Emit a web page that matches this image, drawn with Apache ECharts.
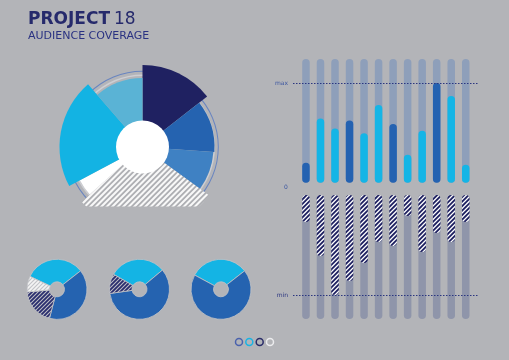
<!DOCTYPE html>
<html><head><meta charset="utf-8">
<script src="https://cdn.jsdelivr.net/npm/echarts@6/dist/echarts.min.js"></script>
<style>html,body{margin:0;padding:0;background:#b3b4b8}#c{width:509px;height:360px}</style>
</head><body><div id="c"></div>
<script>
// ---- data ----
const titleMain = 'PROJECT';
const titleNum = '18';
const subtitle = 'AUDIENCE COVERAGE';

const pieNames = ['Navy', 'Blue', 'Light blue', 'Hatched', 'White', 'Cyan', 'Teal'];
const pieSpans = [52, 42, 32, 102, 14, 77, 41];      // degrees, clockwise from 12 o'clock
const pieReach = [82, 72, 71, 82, 71, 83, 69];        // relative reach of each sector

const barCats = ['1','2','3','4','5','6','7','8','9','10','11','12'];
const topValues = [0.20, 0.645, 0.545, 0.625, 0.495, 0.78, 0.59, 0.28, 0.52, 1.0, 0.87, 0.18];
const topTone = [1,0,0,1,0,0,1,0,0,1,0,0];
const bottomValues = [-0.27, -0.61, -1.0, -0.86, -0.68, -0.47, -0.51, -0.21, -0.57, -0.38, -0.47, -0.27];
const trackTop = 1.24;
const trackBottom = -1.24;
const maxValue = 1, minValue = -1;
const maxLabel = 'max', minLabel = 'min', zeroLabel = '0';

const donutStarts = [154.5, 150, 151.7];
const donutSpans = [[116.5, 142.6, 70.4, 30.5], [110, 212, 38], [113.7, 246.3]];
const donutKinds = [['cyan','blue','hatchNavy','hatchWhite'], ['cyan','blue','hatchNavy'], ['cyan','blue']];

// ---- styles ----
const BG = '#b3b4b8';
const NAVY = '#1f2161';
function stripes(bg, fg, spacing, tile, lineW, back) {
  const c = document.createElement('canvas');
  c.width = tile; c.height = tile;
  const ctx = c.getContext('2d');
  ctx.fillStyle = bg; ctx.fillRect(0, 0, tile, tile);
  ctx.strokeStyle = fg; ctx.lineWidth = lineW;
  ctx.beginPath();
  for (let cc = -2 * tile; cc <= 3 * tile; cc += spacing) {
    if (!back) { ctx.moveTo(cc - 2 * tile, 2 * tile); ctx.lineTo(cc + 2 * tile, -2 * tile); }
    else { ctx.moveTo(cc - 2 * tile, -2 * tile); ctx.lineTo(cc + 2 * tile, 2 * tile); }
  }
  ctx.stroke();
  return { image: c, repeat: 'repeat' };
}
const pieColors = [NAVY, '#2563b0', '#3f81c3', stripes('#adaeb2', '#f8f8f8', 5.5, 11, 2.1, false), '#ffffff', '#13b3e3', '#5ab3d5'];
const barHatch = stripes(NAVY, '#ffffff', 4.5, 9, 1.3, false);
const donutColor = {
  cyan: '#14b4e4', blue: '#2563b0',
  hatchNavy: stripes('#bfc0c6', '#2a2d6e', 4, 8, 1.8, false),
  hatchWhite: stripes('#c3c4c8', '#f4f4f4', 4, 8, 1.6, false)
};

const chart = echarts.init(document.getElementById('c'), null, { renderer: 'canvas' });

const series = [];
const PIE_C = [142.5, 147];
// outer decorative rings
series.push({ type: 'pie', silent: true, center: PIE_C, radius: [71, 72.5], startAngle: 90, label: { show: false },
  data: [{ value: 1, itemStyle: { color: '#cdced3' } }], z: 1 });
series.push({ type: 'pie', silent: true, center: PIE_C, radius: [75.3, 76.3], startAngle: 90, label: { show: false },
  data: [{ value: 1, itemStyle: { color: '#6985c0' } }], z: 1 });
let acc = 0;
pieSpans.forEach((s, i) => {
  series.push({
    type: 'pie', name: pieNames[i], silent: true, center: PIE_C, radius: [0, pieReach[i]],
    startAngle: 90 - acc, label: { show: false }, labelLine: { show: false }, z: 2,
    data: [{ value: s, name: pieNames[i], itemStyle: { color: pieColors[i] } },
           { value: 360 - s, itemStyle: { color: 'rgba(0,0,0,0)' } }]
  });
  acc += s;
});
series.push({ type: 'pie', silent: true, center: PIE_C, radius: [0, 26.5], label: { show: false }, z: 3,
  data: [{ value: 1, itemStyle: { color: '#ffffff' } }] });

// small donuts
const donutCenters = [[57, 289.3], [139.5, 289.3], [221, 289.3]];
donutSpans.forEach((spans, d) => {
  series.push({
    type: 'pie', silent: true, center: donutCenters[d], radius: [7.5, 30], startAngle: donutStarts[d],
    label: { show: false }, labelLine: { show: false },
    itemStyle: { borderColor: '#c2c3c7', borderWidth: 0.8 },
    data: spans.map((v, k) => ({ value: v, itemStyle: { color: donutColor[donutKinds[d][k]] } }))
  });
});

// bars - top
const lineStyleMk = { color: '#2b3680', width: 1, type: [1.5, 1.5] };
series.push({ type: 'bar', xAxisIndex: 0, yAxisIndex: 0, silent: true, barWidth: 7.5,
  itemStyle: { color: '#8e9fba', borderRadius: 3.75 }, data: barCats.map(() => trackTop) });
series.push({ type: 'bar', xAxisIndex: 0, yAxisIndex: 0, silent: true, barWidth: 7.5, barGap: '-100%',
  data: topValues.map((v, i) => ({ value: v, itemStyle: { color: topTone[i] ? '#2462b1' : '#14b5e6', borderRadius: 3.75 } })),
  markLine: { silent: true, symbol: 'none', lineStyle: lineStyleMk,
    label: { show: true, position: 'start', formatter: maxLabel, fontSize: 6, color: '#3a55a0', distance: 5, fontFamily: 'DejaVu Sans' },
    data: [[{ x: 293, yAxis: maxValue }, { x: 478, yAxis: maxValue }]] } });
// bars - bottom
series.push({ type: 'bar', xAxisIndex: 1, yAxisIndex: 1, silent: true, barWidth: 7.5,
  itemStyle: { color: '#8f95aa', borderRadius: 3.75 }, data: barCats.map(() => trackBottom) });
series.push({ type: 'bar', xAxisIndex: 1, yAxisIndex: 1, silent: true, barWidth: 7.5, barGap: '-100%',
  itemStyle: { color: barHatch, borderRadius: 3.75 }, data: bottomValues,
  markLine: { silent: true, symbol: 'none', lineStyle: lineStyleMk,
    label: { show: true, position: 'start', formatter: minLabel, fontSize: 6, color: '#2b3680', distance: 5, fontFamily: 'DejaVu Sans' },
    data: [[{ x: 293, yAxis: minValue }, { x: 478, yAxis: minValue }]] } });

chart.setOption({
  backgroundColor: BG,
  animation: false,
  grid: [
    { left: 298.7, right: 36, top: 59.1, bottom: 177.3 },
    { left: 298.7, right: 36, top: 195, bottom: 41 }
  ],
  xAxis: [
    { type: 'category', gridIndex: 0, data: barCats, show: false },
    { type: 'category', gridIndex: 1, data: barCats, show: false }
  ],
  yAxis: [
    { type: 'value', gridIndex: 0, min: 0, max: trackTop, show: false },
    { type: 'value', gridIndex: 1, min: trackBottom, max: 0, show: false }
  ],
  graphic: [
    // flat lower edge of the big wheel (background-coloured mask)
    { type: 'rect', z: 100, shape: { x: 55, y: 206.5, width: 180, height: 30 }, style: { fill: BG } },
    { type: 'text', left: 28, top: 11, style: { text: titleMain, font: 'bold 17px "DejaVu Sans"', fill: '#262a6c' } },
    { type: 'text', left: 114, top: 11, style: { text: titleNum, font: '17px "DejaVu Sans"', fill: '#262a6c' } },
    { type: 'text', left: 28, top: 31, style: { text: subtitle, font: '11px "DejaVu Sans"', fill: '#2a3282' } },
    { type: 'text', left: 284, top: 184, style: { text: zeroLabel, font: '6px "DejaVu Sans"', fill: '#3a55a0' } },
    { type: 'circle', shape: { cx: 239, cy: 342, r: 3.5 }, style: { fill: 'none', stroke: '#4a62ad', lineWidth: 1.5 } },
    { type: 'circle', shape: { cx: 249.3, cy: 342, r: 3.5 }, style: { fill: 'none', stroke: '#1ab4e4', lineWidth: 1.5 } },
    { type: 'circle', shape: { cx: 259.7, cy: 342, r: 3.5 }, style: { fill: 'none', stroke: '#2a2d6a', lineWidth: 1.5 } },
    { type: 'circle', shape: { cx: 270, cy: 342, r: 3.5 }, style: { fill: 'none', stroke: '#ececee', lineWidth: 1.5 } }
  ],
  series: series
});
</script></body></html>
